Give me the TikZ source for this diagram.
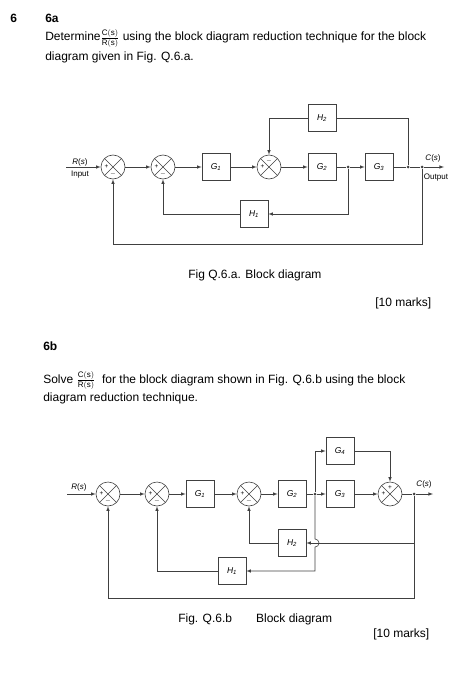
\documentclass[tikz,border=0pt]{standalone}
\usepackage{fontspec}
\setmainfont{Liberation Sans}
\usetikzlibrary{calc}

\tikzset{
  >=latex,
  sgn/.style={font=\fontsize{6.5}{6.5}\selectfont,inner sep=0pt,text=black},
  % summing junction: #1 = vertical offset of the second sign, #2 = that sign
  sumjn/.style 2 args={circle,draw,minimum size=24pt,inner sep=0pt,
    path picture={\draw[line width=0.4pt]
      (path picture bounding box.north west) -- (path picture bounding box.south east)
      (path picture bounding box.north east) -- (path picture bounding box.south west);
      \node[sgn] at ($(path picture bounding box.center)+(-6.5pt,0pt)$) {+};
      \node[sgn] at ($(path picture bounding box.center)+(0pt,#1)$) {#2};}},
  blk/.style={draw,minimum width=28pt,minimum height=27pt,font=\fontsize{8.5}{9}\selectfont\itshape},
  dot/.style={circle,fill=black!75,inner sep=0pt,minimum size=3pt},
  txt/.style={font=\fontsize{12}{14}\selectfont,inner sep=0pt,anchor=base west},
  lbl/.style={font=\fontsize{8}{9}\selectfont,inner sep=0pt,anchor=base},
}

\begin{document}
\begin{tikzpicture}[x=1pt,y=-1pt,line width=0.6pt,draw=black!75]
  \useasboundingbox (0,0) rectangle (462,674);

  % question text
  \node[txt] (qno) at (10,23) {\textbf{6}};
  \node[txt] (qa) at (45,23) {\textbf{6a}};
  \node[txt] (qa1) at (45,41) {Determine$\frac{\mathrm{C(s)}}{\mathrm{R(s)}}$ using the block diagram reduction technique for the block};
  \node[txt] (qa2) at (45,61) {diagram given in Fig. Q.6.a.};

  % Fig Q.6.a
  \coordinate (in1) at (66,167);
  \node[sumjn={-6.5pt}{$-$}] (S1) at (113,167) {};
  \node[sumjn={-6.5pt}{$-$}] (S2) at (163,167) {};
  \node[blk] (G1) at (216,167) {G\textsubscript{1}};
  \node[sumjn={6.5pt}{$-$}] (S3) at (269,167) {};
  \node[blk] (G2) at (322,167) {G\textsubscript{2}};
  \node[dot] (d1) at (348,167) {};
  \node[blk] (G3) at (379,167) {G\textsubscript{3}};
  \node[dot] (d2) at (408,167) {};
  \node[dot] (d3) at (422,167) {};
  \coordinate (out1) at (444,167);
  \node[blk] (H2) at (322,118) {H\textsubscript{2}};
  \node[blk] (H1) at (254,214) {H\textsubscript{1}};
  \coordinate (fb1) at (422,244);

  \node[lbl] (Rs1) at (80,164) {\textit{R}(\textit{s})};
  \node[lbl] (inp) at (80,176) {Input};
  \node[lbl] (Cs1) at (433,160) {\textit{C}(\textit{s})};
  \node[lbl] (outp) at (436,179) {Output};

  \path[->] (in1) edge (S1) (S1) edge (S2) (S2) edge (G1) (G1) edge (S3);
  \path[->] (S3) edge (G2) (d1) edge (G3) (d3) edge (out1);
  \draw (G2) -- (d1) (G3) -- (d2) -- (d3);
  \draw (d2) |- (H2);
  \draw[->] (H2) -| (S3);
  \draw[->] (d1) |- (H1);
  \draw[->] (H1) -| (S2);
  \draw[->] (d3) -- (fb1) -| (S1);

  \node[txt] (capa) at (188,278) {Fig Q.6.a. Block diagram};
  \node[txt] (mka) at (375,306) {[10 marks]};

  % question 6b
  \node[txt] (qb) at (43,350) {\textbf{6b}};
  \node[txt] (qb1) at (43,383) {Solve $\frac{\mathrm{C(s)}}{\mathrm{R(s)}}$\ \ for the block diagram shown in Fig. Q.6.b using the block};
  \node[txt] (qb2) at (43,401) {diagram reduction technique.};

  % Fig Q.6.b
  \coordinate (in2) at (67,494);
  \node[sumjn={-6.5pt}{$-$}] (bS1) at (108,494) {};
  \node[sumjn={-6.5pt}{$-$}] (bS2) at (157,494) {};
  \node[blk] (bG1) at (200,494) {G\textsubscript{1}};
  \node[sumjn={-6.5pt}{$-$}] (bS3) at (249,494) {};
  \node[blk] (bG2) at (292,494) {G\textsubscript{2}};
  \node[dot] (e1) at (315,494) {};
  \node[blk] (bG3) at (340,494) {G\textsubscript{3}};
  \node[sumjn={6.5pt}{+}] (bS4) at (390,494) {};
  \node[dot] (e2) at (414,494) {};
  \coordinate (out2) at (433,494);
  \node[blk] (bG4) at (340,451) {G\textsubscript{4}};
  \node[blk] (bH2) at (292,543) {H\textsubscript{2}};
  \node[blk] (bH1) at (232,571) {H\textsubscript{1}};
  \coordinate (hop) at (315,539);
  \coordinate (tap) at (414,543);
  \coordinate (fb2) at (414,598);

  \node[lbl] (Rs2) at (79,489) {\textit{R}(\textit{s})};
  \node[lbl] (Cs2) at (424,486) {\textit{C}(\textit{s})};

  \path[->] (in2) edge (bS1) (bS1) edge (bS2) (bS2) edge (bG1) (bG1) edge (bS3);
  \path[->] (bS3) edge (bG2) (e1) edge (bG3) (bG3) edge (bS4) (e2) edge (out2);
  \draw (bG2) -- (e1) (bS4) -- (e2);
  \draw[->] (e1) |- (bG4);
  \draw[->] (bG4) -| (bS4);
  \draw[->] (e1) -- (hop) arc[start angle=-90,end angle=90,radius=4] |- (bH1);
  \draw[->] (bH1) -| (bS2);
  \draw[->] (tap) -- (bH2);
  \draw[->] (bH2) -| (bS3);
  \draw[->] (e2) -- (fb2) -| (bS1);

  \node[txt] (capb) at (178,622) {Fig. Q.6.b\qquad Block diagram};
  \node[txt] (mkb) at (373,637) {[10 marks]};
\end{tikzpicture}
\end{document}
